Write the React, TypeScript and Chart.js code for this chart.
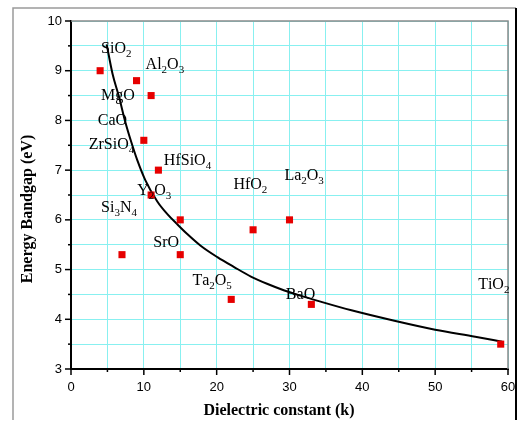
import { useEffect, useRef } from "react";
import { Chart, registerables } from "chart.js";

Chart.register(...registerables);

// Measured materials: dielectric constant (k) and band gap (eV)
const kValues = [4, 9, 11, 10, 12, 11, 15, 15, 25, 30, 22, 33, 59, 7];
const gapValues = [9.0, 8.8, 8.5, 7.6, 7.0, 6.5, 6.0, 5.3, 5.8, 6.0, 4.4, 4.3, 3.5, 5.3];

// Trend curve
const curveK = [4.9, 5.7, 6.6, 7.4, 8.2, 9.1, 10.2, 11.85, 13.2, 14.6, 16.0, 17.8, 20.1, 22.4, 24.7, 27.0, 29.3, 31.6, 33.9, 38.5, 44.4, 50, 55.5, 59.2];
const curveGap = [9.53, 8.94, 8.47, 8.0, 7.6, 7.2, 6.8, 6.37, 6.12, 5.91, 5.71, 5.48, 5.25, 5.05, 4.86, 4.71, 4.58, 4.47, 4.37, 4.18, 3.97, 3.79, 3.65, 3.55];

// Annotation labels (left edge / baseline in data units)
const labelText = ["SiO2", "Al2O3", "MgO", "CaO", "ZrSiO4", "HfSiO4", "Y2O3", "HfO2", "La2O3", "Si3N4", "SrO", "Ta2O5", "BaO", "TiO2"];
const labelK = [4.13, 10.24, 4.13, 3.67, 2.43, 12.75, 9.09, 22.3, 29.3, 4.13, 11.3, 16.67, 29.5, 55.9];
const labelGap = [9.35, 9.04, 8.41, 7.9, 7.42, 7.1, 6.5, 6.63, 6.8, 6.15, 5.46, 4.69, 4.41, 4.6];

const xTicks = [0, 5, 10, 15, 20, 25, 30, 35, 40, 45, 50, 55, 60];
const yTicks = [3, 3.5, 4, 4.5, 5, 5.5, 6, 6.5, 7, 7.5, 8, 8.5, 9, 9.5, 10];

const xTitle = "Dielectric constant (k)";
const yTitle = "Energy Bandgap (eV)";

const SERIF = "'Liberation Serif', 'Times New Roman', serif";
const SANS = "'Liberation Sans', Arial, sans-serif";

function drawFormula(ctx: CanvasRenderingContext2D, text: string, x: number, y: number) {
  let cx = x;
  for (const ch of text) {
    const sub = ch >= "0" && ch <= "9";
    ctx.font = sub ? `11px ${SERIF}` : `16px ${SERIF}`;
    ctx.fillText(ch, cx, sub ? y + 4 : y);
    cx += ctx.measureText(ch).width;
  }
}

const decorPlugin = {
  id: "decor",
  afterDatasetsDraw(chart: any) {
    const ctx: CanvasRenderingContext2D = chart.ctx;
    const xs = chart.scales.x;
    const ys = chart.scales.y;
    const area = chart.chartArea;
    ctx.save();
    // plot top/right border
    ctx.strokeStyle = "#8a8a8a";
    ctx.lineWidth = 1.5;
    ctx.beginPath();
    ctx.moveTo(area.left, area.top);
    ctx.lineTo(area.right, area.top);
    ctx.lineTo(area.right, area.bottom);
    ctx.stroke();

    // labels
    ctx.fillStyle = "#000";
    ctx.textAlign = "left";
    ctx.textBaseline = "alphabetic";
    labelText.forEach((t, i) => {
      drawFormula(ctx, t, xs.getPixelForValue(labelK[i]), ys.getPixelForValue(labelGap[i]));
    });

    // tick marks
    ctx.strokeStyle = "#000";
    ctx.lineWidth = 1.5;
    xTicks.forEach((v) => {
      const px = xs.getPixelForValue(v);
      const len = v % 10 === 0 ? 6 : 3;
      ctx.beginPath();
      ctx.moveTo(px, area.bottom);
      ctx.lineTo(px, area.bottom + len);
      ctx.stroke();
    });
    yTicks.forEach((v) => {
      const py = ys.getPixelForValue(v);
      const len = Number.isInteger(v) ? 6 : 3;
      ctx.beginPath();
      ctx.moveTo(area.left, py);
      ctx.lineTo(area.left - len, py);
      ctx.stroke();
    });

    // axis titles
    ctx.font = `bold 16px ${SERIF}`;
    ctx.textAlign = "center";
    ctx.fillText(xTitle, 279, 415);
    ctx.save();
    ctx.translate(32, 209);
    ctx.rotate(-Math.PI / 2);
    ctx.fillText(yTitle, 0, 0);
    ctx.restore();

    // outer frame
    ctx.strokeStyle = "#9a9a9a";
    ctx.lineWidth = 1.5;
    ctx.beginPath();
    ctx.moveTo(13, 420);
    ctx.lineTo(13, 8);
    ctx.lineTo(516, 8);
    ctx.stroke();
    ctx.strokeStyle = "#000";
    ctx.lineWidth = 2;
    ctx.beginPath();
    ctx.moveTo(516, 8);
    ctx.lineTo(516, 420);
    ctx.stroke();
    ctx.restore();
  },
};

export default function App() {
  const ref = useRef<HTMLCanvasElement>(null);
  useEffect(() => {
    const canvas = ref.current!;
    const chart = new Chart(canvas, {
      type: "scatter",
      data: {
        datasets: [
          {
            type: "line",
            data: curveK.map((k, i) => ({ x: k, y: curveGap[i] })),
            borderColor: "#000",
            borderWidth: 2,
            pointRadius: 0,
            cubicInterpolationMode: "monotone",
            fill: false,
            order: 2,
          } as any,
          {
            type: "scatter",
            data: kValues.map((k, i) => ({ x: k, y: gapValues[i] })),
            pointStyle: "rect",
            pointRadius: 5,
            backgroundColor: "#e60000",
            borderColor: "#c00000",
            borderWidth: 0,
            order: 1,
          } as any,
        ],
      },
      options: {
        responsive: false,
        animation: false,
        layout: { padding: { left: 0, right: 11, top: 21, bottom: 0 } },
        plugins: { legend: { display: false }, tooltip: { enabled: false } },
        scales: {
          x: {
            type: "linear",
            min: 0,
            max: 60,
            afterFit: (s: any) => {
              s.height = 62;
              s.paddingLeft = 0;
              s.paddingRight = 0;
            },
            ticks: {
              stepSize: 5,
              autoSkip: false,
              maxRotation: 0,
              padding: 11,
              color: "#000",
              font: { family: SANS, size: 13 },
              callback: (v: any) => (Number(v) % 10 === 0 ? String(v) : ""),
            },
            grid: { color: "#88f0f0", lineWidth: 1, drawTicks: false },
            border: { color: "#000", width: 2 },
          },
          y: {
            type: "linear",
            min: 3,
            max: 10,
            afterFit: (s: any) => {
              s.width = 71;
              s.paddingTop = 0;
              s.paddingBottom = 0;
            },
            ticks: {
              stepSize: 0.5,
              autoSkip: false,
              padding: 9,
              color: "#000",
              font: { family: SANS, size: 13 },
              callback: (v: any) => (Number.isInteger(Number(v)) ? String(v) : ""),
            },
            grid: { color: "#88f0f0", lineWidth: 1, drawTicks: false },
            border: { color: "#000", width: 2 },
          },
        },
      },
      plugins: [decorPlugin],
    });
    return () => chart.destroy();
  }, []);
  return (
    <div style={{ position: "fixed", left: 0, top: 0, width: 519, height: 431, background: "#fff" }}>
      <canvas ref={ref} width={519} height={431} style={{ display: "block", width: 519, height: 431 }} />
    </div>
  );
}
